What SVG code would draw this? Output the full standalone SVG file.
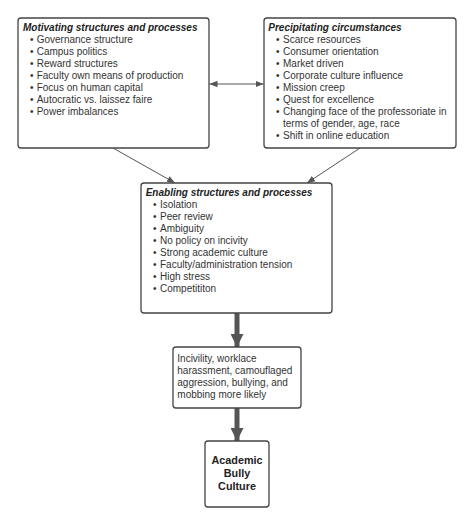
<svg xmlns="http://www.w3.org/2000/svg" width="474" height="525" viewBox="0 0 474 525">
<defs>
<marker id="ah" viewBox="0 0 10 10" refX="10" refY="5" markerWidth="8" markerHeight="8" markerUnits="userSpaceOnUse" orient="auto-start-reverse"><path d="M0,1 L10,5 L0,9 Z" fill="#555"/></marker>
<marker id="ahb" viewBox="0 0 10 10" refX="10" refY="5" markerWidth="2.6" markerHeight="2.6" orient="auto"><path d="M0,0 L10,5 L0,10 Z" fill="#555"/></marker>
</defs>
<style>
.box{fill:#fff;stroke:#444;stroke-width:1.3}
.t{font-family:"Liberation Sans",Arial,sans-serif;font-size:10px;fill:#333}
.h{font-weight:bold;font-style:italic;fill:#222}
.b{font-family:"Liberation Sans",Arial,sans-serif;font-size:10.8px;font-weight:bold;fill:#222;text-anchor:middle}
.thin{stroke:#555;stroke-width:1;fill:none}
.thick{stroke:#555;stroke-width:5;fill:none}
</style>
<rect width="474" height="525" fill="#fff"/>
<g id="connectors">
<line class="thin" x1="209.5" y1="84" x2="263.5" y2="84" marker-start="url(#ah)" marker-end="url(#ah)"/>
<line class="thin" x1="113" y1="148" x2="175" y2="183" marker-end="url(#ah)"/>
<line class="thin" x1="360" y1="148" x2="307" y2="183" marker-end="url(#ah)"/>
<line class="thick" x1="237" y1="313" x2="237" y2="347" marker-end="url(#ahb)"/>
<line class="thick" x1="237" y1="408" x2="237" y2="441" marker-end="url(#ahb)"/>
</g>
<g id="motivating">
<rect class="box" x="18" y="18" width="191" height="130" rx="3"/>
<text class="t h" x="23" y="31">Motivating structures and processes</text>
<g class="t">
<text x="30" y="43">•</text><text x="36.7" y="43">Governance structure</text>
<text x="30" y="55.1">•</text><text x="36.7" y="55.1">Campus politics</text>
<text x="30" y="67.1">•</text><text x="36.7" y="67.1">Reward structures</text>
<text x="30" y="79.2">•</text><text x="36.7" y="79.2">Faculty own means of production</text>
<text x="30" y="91.2">•</text><text x="36.7" y="91.2">Focus on human capital</text>
<text x="30" y="103.3">•</text><text x="36.7" y="103.3">Autocratic vs. laissez faire</text>
<text x="30" y="115.3">•</text><text x="36.7" y="115.3">Power imbalances</text>
</g>
</g>
<g id="precipitating">
<rect class="box" x="264" y="18" width="192" height="130" rx="3"/>
<text class="t h" x="268.3" y="31">Precipitating circumstances</text>
<g class="t">
<text x="276" y="43">•</text><text x="283" y="43">Scarce resources</text>
<text x="276" y="55.1">•</text><text x="283" y="55.1">Consumer orientation</text>
<text x="276" y="67.1">•</text><text x="283" y="67.1">Market driven</text>
<text x="276" y="79.2">•</text><text x="283" y="79.2">Corporate culture influence</text>
<text x="276" y="91.2">•</text><text x="283" y="91.2">Mission creep</text>
<text x="276" y="103.3">•</text><text x="283" y="103.3">Quest for excellence</text>
<text x="276" y="115.3">•</text><text x="283" y="115.3">Changing face of the professoriate in</text>
<text x="283" y="127.4">terms of gender, age, race</text>
<text x="276" y="139.4">•</text><text x="283" y="139.4">Shift in online education</text>
</g>
</g>
<g id="enabling">
<rect class="box" x="141" y="183" width="191" height="130" rx="3"/>
<text class="t h" x="145.7" y="196">Enabling structures and processes</text>
<g class="t">
<text x="153" y="207.8">•</text><text x="160" y="207.8">Isolation</text>
<text x="153" y="219.9">•</text><text x="160" y="219.9">Peer review</text>
<text x="153" y="231.9">•</text><text x="160" y="231.9">Ambiguity</text>
<text x="153" y="244">•</text><text x="160" y="244">No policy on incivity</text>
<text x="153" y="256.1">•</text><text x="160" y="256.1">Strong academic culture</text>
<text x="153" y="268.2">•</text><text x="160" y="268.2">Faculty/administration tension</text>
<text x="153" y="280.3">•</text><text x="160" y="280.3">High stress</text>
<text x="153" y="292.4">•</text><text x="160" y="292.4">Competititon</text>
</g>
</g>
<g id="incivility">
<rect class="box" x="173" y="347" width="128" height="61" rx="3"/>
<g class="t">
<text x="177.3" y="361.5">Incivility, worklace</text>
<text x="177.3" y="373.7">harassment, camouflaged</text>
<text x="177.3" y="385.9">aggression, bullying, and</text>
<text x="177.3" y="398.1">mobbing more likely</text>
</g>
</g>
<g id="culture">
<rect class="box" x="205" y="441" width="64" height="66" rx="3"/>
<text class="b" x="237" y="464">Academic</text>
<text class="b" x="237" y="476.8">Bully</text>
<text class="b" x="237" y="489.6">Culture</text>
</g>
</svg>
